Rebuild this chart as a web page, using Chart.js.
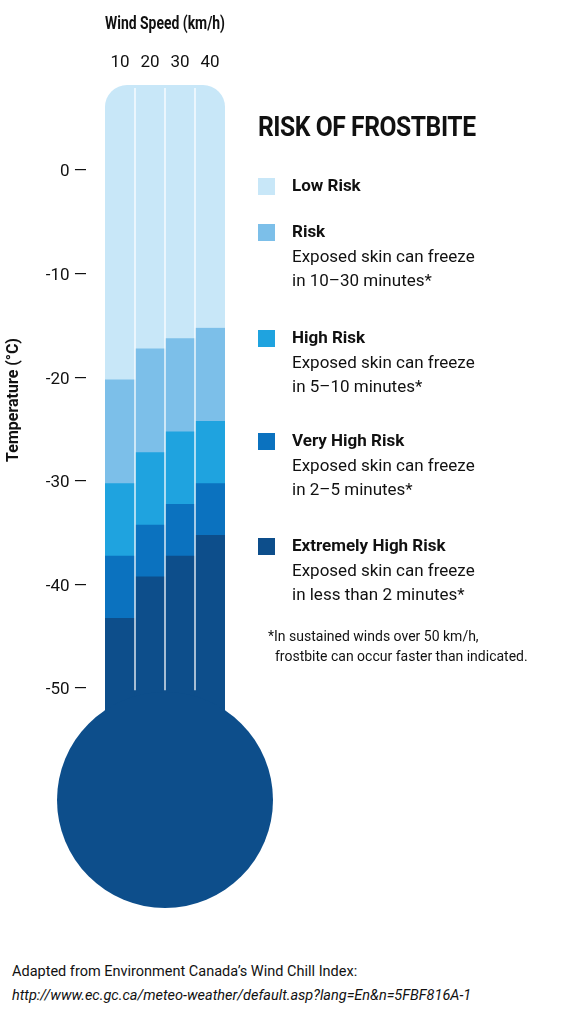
<!DOCTYPE html>
<html><head><meta charset="utf-8">
<script src="https://cdn.jsdelivr.net/npm/chart.js@4"></script>
<style>
body{margin:0;background:#fff;font-family:Roboto,"Liberation Sans",sans-serif;color:#111;width:582px;height:1024px;position:relative;overflow:hidden}
#wrap{position:absolute;left:0;top:0;width:290px;height:930px}
.t{position:absolute;white-space:nowrap}
.sw{position:absolute;width:17px;height:17px}
.lab{font-weight:bold;font-size:17px}
.d{font-size:17px;line-height:24px}
</style></head><body>
<div id="wrap"><canvas id="c" width="290" height="930"></canvas></div>
<div class="t" style="left:258px;top:110px;font-size:28px;font-weight:bold;letter-spacing:-0.5px;transform:scaleX(0.88);transform-origin:left">RISK OF FROSTBITE</div>
<div id="leg"></div>
<div class="t" style="left:268px;top:626px;font-size:14px;line-height:20px">*In sustained winds over 50 km/h,<br>&nbsp;&nbsp;frostbite can occur faster than indicated.</div>
<div class="t" style="left:12px;top:960px;font-size:14.5px;line-height:24px">Adapted from Environment Canada’s Wind Chill Index:<br><i>http://www.ec.gc.ca/meteo-weather/default.asp?lang=En&amp;n=5FBF816A-1</i></div>
<script>
const windSpeeds=["10","20","30","40"];
const riskLevels=["Low Risk","Risk","High Risk","Very High Risk","Extremely High Risk"];
const riskDescriptions=["","Exposed skin can freeze\nin 10–30 minutes*","Exposed skin can freeze\nin 5–10 minutes*","Exposed skin can freeze\nin 2–5 minutes*","Exposed skin can freeze\nin less than 2 minutes*"];
const riskColors=["#c8e7f8","#7cbfe9","#1fa3df","#0b72bf","#0d4e8b"];
// lower boundary of each band per wind speed (top of chart for Low Risk)
const lowRiskBottom=[-20,-17,-16,-15];
const riskBottom=[-30,-27,-25,-24];
const highRiskBottom=[-37,-34,-32,-30];
const veryHighRiskBottom=[-43,-39,-37,-35];
const yTop=8.4, yBottom=-52.4;
const bounds=[windSpeeds.map(()=>yTop),lowRiskBottom,riskBottom,highRiskBottom,veryHighRiskBottom,windSpeeds.map(()=>yBottom)];
const datasets=riskLevels.map((r,i)=>({label:r,backgroundColor:riskColors[i],data:windSpeeds.map((w,j)=>[bounds[i+1][j],bounds[i][j]]),barPercentage:1,categoryPercentage:1,borderWidth:0}));

const tops=[176,222,328,431,536];
const leg=document.getElementById('leg');
riskLevels.forEach((r,i)=>{
  leg.insertAdjacentHTML('beforeend',`<div class="sw" style="left:258px;top:${tops[i]+2}px;background:${riskColors[i]}"></div><div class="t lab" style="left:292px;top:${tops[i]-1}px">${r}</div>`+(riskDescriptions[i]?`<div class="t d" style="left:292px;top:${tops[i]+22}px">${riskDescriptions[i].replace('\n','<br>')}</div>`:''));
});

const tube={id:'tube',
 beforeDatasetsDraw(ch){const a=ch.chartArea,c=ch.ctx;c.save();c.beginPath();c.roundRect(a.left,a.top,a.right-a.left,a.bottom-a.top+5,[22,22,0,0]);c.clip();},
 afterDatasetsDraw(ch){const a=ch.chartArea,c=ch.ctx;c.restore();
  const x=ch.scales.x,y=ch.scales.y;
  c.fillStyle=riskColors[4];c.beginPath();c.arc((a.left+a.right)/2,a.bottom+85,108,0,Math.PI*2);c.fill();
  c.strokeStyle='rgba(255,255,255,0.85)';c.lineWidth=1.5;
  for(let j=1;j<windSpeeds.length;j++){const px=(x.getPixelForValue(j-1)+x.getPixelForValue(j))/2;c.beginPath();c.moveTo(px,a.top+3);c.lineTo(px,y.getPixelForValue(-50));c.stroke();}
 }};
new Chart(document.getElementById('c'),{type:'bar',data:{labels:windSpeeds,datasets},
 options:{responsive:false,animation:false,layout:{padding:{bottom:215,right:65}},
  plugins:{legend:{display:false},tooltip:{enabled:false}},
  scales:{
   x:{stacked:true,position:'top',grid:{display:false},border:{display:false},
      ticks:{color:'#111',font:{size:17,family:'Roboto'},padding:4},
      title:{display:true,text:'Wind Speed (km/h)',color:'#111',font:{size:18,weight:'bold',family:'Roboto'},padding:{top:14,bottom:6}},
      afterFit(s){s.height=85;}},
   y:{min:yBottom,max:yTop,grid:{display:false},border:{display:false},
      afterBuildTicks(s){s.ticks=[0,-10,-20,-30,-40,-50].map(v=>({value:v}));},
      ticks:{color:'#111',font:{size:17,family:'Roboto'},padding:10,callback:v=>v+' —'},
      title:{display:true,text:'Temperature (°C)',color:'#111',font:{size:16,weight:'bold',family:'Roboto'}},
      afterFit(s){s.width=105;}}}},
 plugins:[tube]});
</script></body></html>
